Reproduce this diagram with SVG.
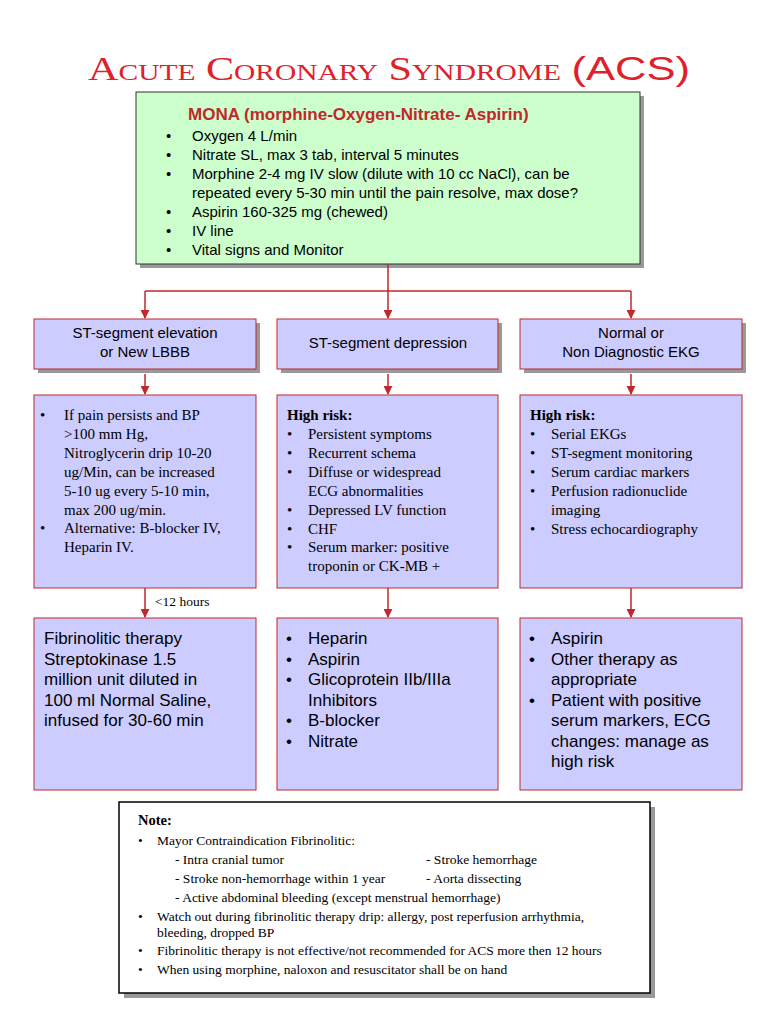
<svg xmlns="http://www.w3.org/2000/svg" width="768" height="1024" viewBox="0 0 768 1024">
<defs>
<style>
.sh{fill:#999}
.g{fill:#ccffcc;stroke:#333;stroke-width:1}
.b{fill:#ccccff;stroke:#c0282d;stroke-width:1}
.s{font-family:"Liberation Sans",Arial,sans-serif;font-size:15px;fill:#000}
.r{font-family:"Liberation Serif","Times New Roman",serif;font-size:15px;fill:#000}
.l{font-family:"Liberation Sans",Arial,sans-serif;font-size:17px;fill:#000}
.n{font-family:"Liberation Serif","Times New Roman",serif;font-size:13.5px;fill:#000}
.c{stroke:#c0282d;stroke-width:1.5;fill:none}
</style>
<marker id="a" viewBox="0 0 10 10" refX="9" refY="5" markerWidth="6" markerHeight="6" orient="auto"><path d="M0,0L10,5L0,10z" fill="#c0282d"/></marker>
</defs>
<rect width="768" height="1024" fill="#fff"/>
<text x="88" y="80" textLength="602" lengthAdjust="spacingAndGlyphs" font-family="Liberation Serif,serif" font-variant="small-caps" font-size="33" fill="#e0202a">Acute Coronary Syndrome <tspan font-size="34" font-family="Liberation Sans,sans-serif" font-variant="normal">(ACS)</tspan></text>
<g id="mona">
<rect class="sh" x="140" y="96" width="504" height="172"/>
<rect class="g" x="136" y="92" width="504" height="172"/>
<text x="188" y="120" font-family="Liberation Sans,Arial,sans-serif" font-size="17" font-weight="bold" fill="#c0282d">MONA (morphine-Oxygen-Nitrate- Aspirin)</text>
<g class="s">
<text x="166" y="141">•</text><text x="192" y="141">Oxygen 4 L/min</text>
<text x="166" y="160">•</text><text x="192" y="160">Nitrate SL, max 3 tab, interval 5 minutes</text>
<text x="166" y="179">•</text><text x="192" y="179">Morphine 2-4 mg IV slow (dilute with 10 cc NaCl), can be</text>
<text x="192" y="198">repeated every 5-30 min until the pain resolve, max dose?</text>
<text x="166" y="217">•</text><text x="192" y="217">Aspirin 160-325 mg (chewed)</text>
<text x="166" y="236">•</text><text x="192" y="236">IV line</text>
<text x="166" y="255">•</text><text x="192" y="255">Vital signs and Monitor</text>
</g></g>
<g id="connectors">
<path class="c" d="M388,264V318" marker-end="url(#a)"/>
<path class="c" d="M145,291H631"/>
<path class="c" d="M145,291V318" marker-end="url(#a)"/>
<path class="c" d="M631,291V318" marker-end="url(#a)"/>
<path class="c" d="M145,374V394" marker-end="url(#a)"/>
<path class="c" d="M388,374V394" marker-end="url(#a)"/>
<path class="c" d="M631,374V394" marker-end="url(#a)"/>
<path class="c" d="M145,588V617" marker-end="url(#a)"/>
<path class="c" d="M388,588V617" marker-end="url(#a)"/>
<path class="c" d="M631,588V617" marker-end="url(#a)"/>
<text x="155" y="606" class="n" font-size="12.5">&lt;12 hours</text>
</g>
<g id="ste">
<rect class="sh" x="38" y="323" width="222" height="50"/><rect class="b" x="34" y="319" width="222" height="50"/>
<text class="s" x="145" y="338" text-anchor="middle">ST-segment elevation</text>
<text class="s" x="145" y="357" text-anchor="middle">or New LBBB</text>
</g>
<g id="std">
<rect class="sh" x="281" y="323" width="221" height="50"/><rect class="b" x="277" y="319" width="221" height="50"/>
<text class="s" x="388" y="348" text-anchor="middle">ST-segment depression</text>
</g>
<g id="nd">
<rect class="sh" x="524" y="323" width="222" height="50"/><rect class="b" x="520" y="319" width="222" height="50"/>
<text class="s" x="631" y="338" text-anchor="middle">Normal or</text>
<text class="s" x="631" y="357" text-anchor="middle">Non Diagnostic EKG</text>
</g>
<g id="ste2">
<rect class="b" x="34" y="395" width="222" height="193"/>
<g class="r">
<text x="40" y="420">•</text><text x="64" y="420">If  pain persists and BP</text>
<text x="64" y="439">&gt;100 mm Hg,</text>
<text x="64" y="458">Nitroglycerin drip 10-20</text>
<text x="64" y="477">ug/Min, can be increased</text>
<text x="64" y="496">5-10 ug every 5-10 min,</text>
<text x="64" y="515">max 200 ug/min.</text>
<text x="40" y="533">•</text><text x="64" y="533">Alternative: B-blocker IV,</text>
<text x="64" y="552">Heparin IV.</text>
</g></g>
<g id="std2">
<rect class="b" x="277" y="395" width="221" height="193"/>
<g class="r">
<text x="287" y="420" font-weight="bold">High risk:</text>
<text x="287" y="439">•</text><text x="308" y="439">Persistent symptoms</text>
<text x="287" y="458">•</text><text x="308" y="458">Recurrent schema</text>
<text x="287" y="477">•</text><text x="308" y="477">Diffuse or widespread</text>
<text x="308" y="496">ECG abnormalities</text>
<text x="287" y="515">•</text><text x="308" y="515">Depressed LV function</text>
<text x="287" y="534">•</text><text x="308" y="534">CHF</text>
<text x="287" y="552">•</text><text x="308" y="552">Serum marker: positive</text>
<text x="308" y="571">troponin or CK-MB +</text>
</g></g>
<g id="nd2">
<rect class="b" x="520" y="395" width="222" height="193"/>
<g class="r">
<text x="530" y="420" font-weight="bold">High risk:</text>
<text x="530" y="439">•</text><text x="551" y="439">Serial EKGs</text>
<text x="530" y="458">•</text><text x="551" y="458">ST-segment monitoring</text>
<text x="530" y="477">•</text><text x="551" y="477">Serum cardiac markers</text>
<text x="530" y="496">•</text><text x="551" y="496">Perfusion radionuclide</text>
<text x="551" y="515">imaging</text>
<text x="530" y="534">•</text><text x="551" y="534">Stress echocardiography</text>
</g></g>
<g id="ste3">
<rect class="b" x="34" y="618" width="222" height="172"/>
<g class="l">
<text x="44" y="644">Fibrinolitic therapy</text>
<text x="44" y="665">Streptokinase 1.5</text>
<text x="44" y="685">million unit diluted in</text>
<text x="44" y="706">100 ml Normal Saline,</text>
<text x="44" y="726">infused for 30-60 min</text>
</g></g>
<g id="std3">
<rect class="b" x="277" y="618" width="221" height="172"/>
<g class="l">
<text x="286" y="644">•</text><text x="308" y="644">Heparin</text>
<text x="286" y="665">•</text><text x="308" y="665">Aspirin</text>
<text x="286" y="685">•</text><text x="308" y="685">Glicoprotein IIb/IIIa</text>
<text x="308" y="706">Inhibitors</text>
<text x="286" y="726">•</text><text x="308" y="726">B-blocker</text>
<text x="286" y="747">•</text><text x="308" y="747">Nitrate</text>
</g></g>
<g id="nd3">
<rect class="b" x="520" y="618" width="222" height="172"/>
<g class="l">
<text x="529" y="644">•</text><text x="551" y="644">Aspirin</text>
<text x="529" y="665">•</text><text x="551" y="665">Other therapy as</text>
<text x="551" y="685">appropriate</text>
<text x="529" y="706">•</text><text x="551" y="706">Patient with positive</text>
<text x="551" y="726">serum markers, ECG</text>
<text x="551" y="747">changes: manage as</text>
<text x="551" y="767">high risk</text>
</g></g>
<g id="note">
<rect class="sh" x="124" y="807" width="531" height="191"/>
<rect x="119" y="802" width="531" height="191" fill="#fff" stroke="#000" stroke-width="1.5"/>
<g class="n">
<text x="138" y="825" font-size="14.5" font-weight="bold">Note:</text>
<text x="138" y="845">•</text><text x="157" y="845">Mayor Contraindication Fibrinolitic:</text>
<text x="175" y="864">- Intra cranial tumor</text><text x="426" y="864">- Stroke hemorrhage</text>
<text x="175" y="883">- Stroke non-hemorrhage within 1 year</text><text x="426" y="883">- Aorta dissecting</text>
<text x="175" y="902">- Active abdominal bleeding (except menstrual hemorrhage)</text>
<text x="138" y="921">•</text><text x="157" y="921">Watch out during fibrinolitic  therapy drip: allergy, post reperfusion arrhythmia,</text>
<text x="157" y="937">bleeding, dropped BP</text>
<text x="138" y="955">•</text><text x="157" y="955">Fibrinolitic therapy is not effective/not recommended for ACS more then 12 hours</text>
<text x="138" y="974">•</text><text x="157" y="974">When using morphine, naloxon and resuscitator shall be on hand</text>
</g></g>
</svg>
